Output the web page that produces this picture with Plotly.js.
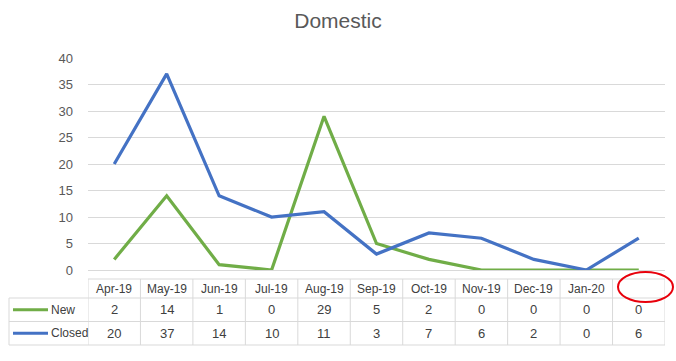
<!DOCTYPE html>
<html>
<head>
<meta charset="utf-8">
<script src="https://cdn.plot.ly/plotly-3.0.1.min.js"></script>
<style>html,body{margin:0;padding:0;background:#fff;}#chart{width:676px;height:361px;}</style>
</head>
<body>
<div id="chart"></div>
<script>
const categories = ["Apr-19","May-19","Jun-19","Jul-19","Aug-19","Sep-19","Oct-19","Nov-19","Dec-19","Jan-20",""];
const newVals = [2,14,1,0,29,5,2,0,0,0,0];
const closedVals = [20,37,14,10,11,3,7,6,2,0,6];
const seriesNames = ["New","Closed"];
const seriesColors = ["#70AD47","#4472C4"];

const W = 676, H = 361;
const L = 88, R = 665, T = 58, B = 270;
const px2x = p => (p - L) / (R - L);
const px2y = p => (B - p) / (B - T);
const FONT = "Liberation Sans Narrow, Liberation Sans, Arial, sans-serif";
const TXT = "#404040";
const GRID = "#d9d9d9";

const xs = categories.map((_, i) => i);
const n = categories.length;

const traces = [
  {x: xs, y: newVals, name: seriesNames[0], type: 'scatter', mode: 'lines',
   line: {color: seriesColors[0], width: 3.2}, hoverinfo: 'skip'},
  {x: xs, y: closedVals, name: seriesNames[1], type: 'scatter', mode: 'lines',
   line: {color: seriesColors[1], width: 3.2}, hoverinfo: 'skip'}
];

const rowTop = [279, 298, 321.5, 345];
const shapes = [];
const annotations = [];
const hline = (x0, x1, py, xref) => shapes.push({type:'line', xref: xref, yref:'paper', x0:x0, x1:x1, y0:px2y(py), y1:px2y(py), line:{color:GRID, width:1}});
hline(-0.5, n - 0.5, rowTop[0], 'x');
for (let k = 1; k < 4; k++) hline(px2x(9), 1, rowTop[k], 'paper');
for (let i = 0; i <= n; i++) {
  shapes.push({type:'line', xref:'x', yref:'paper', x0:i-0.5, x1:i-0.5, y0:px2y(rowTop[0]), y1:px2y(rowTop[3]), line:{color:GRID, width:1}});
}
shapes.push({type:'line', xref:'paper', yref:'paper', x0:px2x(9), x1:px2x(9), y0:px2y(rowTop[1]), y1:px2y(rowTop[3]), line:{color:GRID, width:1}});

const rowMid = k => px2y((rowTop[k] + rowTop[k+1]) / 2);
categories.forEach((c, i) => {
  annotations.push({x:i, xref:'x', y:rowMid(0), yref:'paper', text:c, showarrow:false, font:{family:FONT, size:12, color:TXT}, xanchor:'center', yanchor:'middle'});
  annotations.push({x:i, xref:'x', y:rowMid(1), yref:'paper', text:String(newVals[i]), showarrow:false, font:{family:FONT, size:13, color:TXT}, xanchor:'center', yanchor:'middle'});
  annotations.push({x:i, xref:'x', y:rowMid(2), yref:'paper', text:String(closedVals[i]), showarrow:false, font:{family:FONT, size:13, color:TXT}, xanchor:'center', yanchor:'middle'});
});
seriesNames.forEach((s, k) => {
  const py = (rowTop[k+1] + rowTop[k+2]) / 2;
  shapes.push({type:'line', xref:'paper', yref:'paper', x0:px2x(13), x1:px2x(48), y0:px2y(py), y1:px2y(py), line:{color:seriesColors[k], width:3.2}});
  annotations.push({x:px2x(49), xref:'paper', y:px2y(py), yref:'paper', text:s, showarrow:false, font:{family:FONT, size:12, color:TXT}, xanchor:'left', yanchor:'middle'});
});
// red hand-drawn mark around the empty category
shapes.push({type:'circle', xref:'paper', yref:'paper', x0:px2x(618), x1:px2x(673), y0:px2y(272), y1:px2y(302), line:{color:'#e8000b', width:2}});

const layout = {
  width: W, height: H,
  margin: {l: L, r: W - R, t: T, b: H - B, pad: 0},
  paper_bgcolor: '#fff', plot_bgcolor: '#fff',
  showlegend: false,
  title: {text: 'Domestic', font: {family: "Liberation Sans, sans-serif", size: 21, color: '#595959'}, x: 0.5, xanchor: 'center', y: 1 - 21/H, yanchor: 'middle', yref: 'container'},
  xaxis: {range: [-0.5, n - 0.5], showticklabels: false, showgrid: false, zeroline: false, showline: false, ticks: '', fixedrange: true},
  yaxis: {range: [0, 40], dtick: 5, tick0: 0, showgrid: true, gridcolor: GRID, gridwidth: 1, zeroline: true, zerolinecolor: GRID, zerolinewidth: 1, showline: false, ticks: '', ticklabelstandoff: 14,
          tickfont: {family: FONT, size: 13, color: '#595959'}, fixedrange: true},
  shapes: shapes,
  annotations: annotations
};

Plotly.newPlot('chart', traces, layout, {displayModeBar: false, staticPlot: true});
</script>
</body>
</html>
